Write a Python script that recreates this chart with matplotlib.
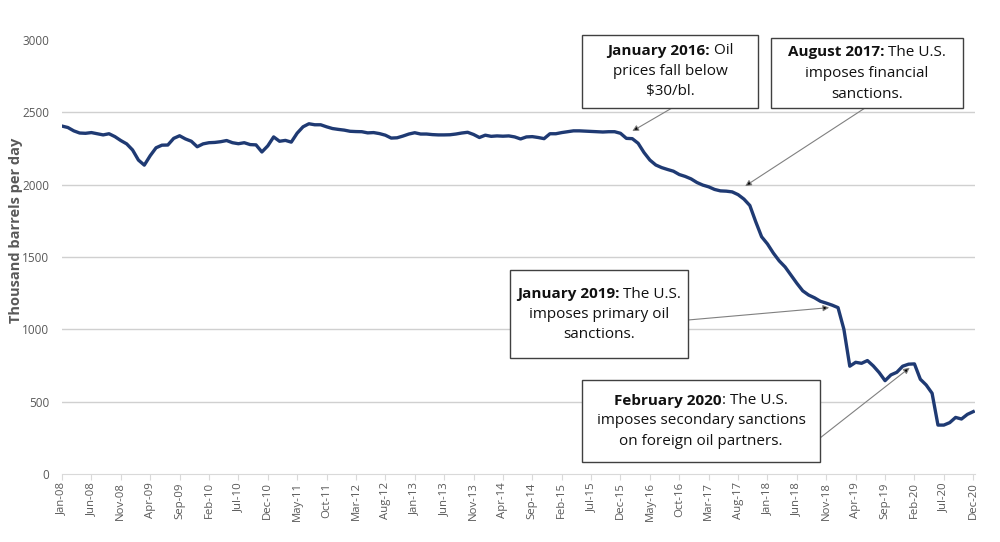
import matplotlib
matplotlib.use("Agg")
import matplotlib.pyplot as plt
from matplotlib.patches import Rectangle

# monthly crude output, Jan-2008 .. Dec-2020 (thousand b/d)
prod = [
    2405, 2395, 2372, 2357, 2355, 2360, 2352, 2344, 2352, 2332,
    2305, 2282, 2240, 2170, 2135, 2200, 2255, 2273, 2274, 2320,
    2338, 2316, 2300, 2262, 2282, 2290, 2292, 2297, 2305, 2290,
    2283, 2290, 2277, 2275, 2226, 2268, 2330, 2300, 2306, 2294,
    2356, 2400, 2421, 2414, 2414, 2400, 2388, 2382, 2377, 2369,
    2367, 2366, 2358, 2360, 2353, 2342, 2322, 2324, 2336, 2350,
    2359, 2350, 2350, 2346, 2344, 2344, 2345, 2350, 2357, 2362,
    2347, 2326, 2342, 2334, 2337, 2335, 2337, 2330, 2316, 2330,
    2332, 2326, 2318, 2352, 2352, 2360, 2366, 2372, 2372, 2370,
    2368, 2366, 2364, 2366, 2366, 2355, 2320, 2318, 2286, 2222,
    2170, 2136, 2118, 2105, 2093, 2070, 2057, 2040, 2015, 1997,
    1985, 1967, 1957, 1955, 1950, 1931, 1900, 1856, 1744, 1640,
    1590, 1527, 1473, 1431, 1375, 1318, 1266, 1237, 1218, 1194,
    1181, 1167, 1150, 1000, 745, 772, 765, 784, 747, 701,
    645, 685, 703, 745, 759, 761, 655, 615, 558, 338,
    338, 355, 391, 380, 412, 431,
]

tick_labels = [
    "Jan-08", "Jun-08", "Nov-08", "Apr-09", "Sep-09", "Feb-10", "Jul-10",
    "Dec-10", "May-11", "Oct-11", "Mar-12", "Aug-12", "Jan-13", "Jun-13",
    "Nov-13", "Apr-14", "Sep-14", "Feb-15", "Jul-15", "Dec-15", "May-16",
    "Oct-16", "Mar-17", "Aug-17", "Jan-18", "Jun-18", "Nov-18", "Apr-19",
    "Sep-19", "Feb-20", "Jul-20", "Dec-20",
]
yticks = [0, 500, 1000, 1500, 2000, 2500, 3000]

# (bold lead, rest of first line, other lines)
notes = [
    ("January 2016:", " Oil", ["prices fall below", "$30/bl."]),
    ("August 2017:", " The U.S.", ["imposes financial", "sanctions."]),
    ("January 2019:", " The U.S.", ["imposes primary oil", "sanctions."]),
    ("February 2020", ": The U.S.", ["imposes secondary sanctions",
                                    "on foreign oil partners."]),
]

plt.rcParams['font.family'] = ['Open Sans', 'DejaVu Sans']
grey = '#595959'

fig = plt.figure(figsize=(10, 5.42), dpi=100)
ax = fig.add_axes([0.062, 0.1255, 0.913, 0.8007])

ax.plot(range(len(prod)), prod, color='#1f3a73', lw=2.4,
        solid_joinstyle='round', zorder=3)
ax.set_xlim(0, 155.3)
ax.set_ylim(0, 3000)

for v in yticks[1:-1]:
    ax.axhline(v, color='#d0d0d0', lw=1, zorder=0)

for s in ['top', 'right', 'left']:
    ax.spines[s].set_visible(False)
ax.spines['bottom'].set_color('#d9d9d9')

ax.set_yticks(yticks)
ax.tick_params(axis='y', length=0, labelsize=8.5, labelcolor=grey, pad=9)
ax.set_xticks(range(0, len(prod), 5))
ax.set_xticklabels(tick_labels, rotation=90)
ax.tick_params(axis='x', length=4, color='#d9d9d9', labelsize=8.2,
               labelcolor=grey, pad=2)

fig.text(0.016, 0.575, "Thousand barrels per day", rotation=90,
         ha='center', va='center', fontsize=10.5, fontweight='bold', color=grey)

# annotation boxes in figure pixels: left, top, right, bottom, line step,
# arrow start, arrow tip (data)
boxes = [
    (582, 35, 758, 108, 20.5, (672, 108), (97, 2370)),
    (771, 38, 963, 108, 21, (865, 108), (116.2, 1990)),
    (510, 270, 688, 358, 20, (688, 320), (130.5, 1150)),
    (582, 380, 820, 462, 20.5, (820, 438), (144.2, 735)),
]

W, H = 1000.0, 542.0
fig.canvas.draw()
r = fig.canvas.get_renderer()
for (bold, rest, lines), (l, t, rr, b, step, start, tip) in zip(notes, boxes):
    fig.patches.append(Rectangle((l / W, 1 - b / H), (rr - l) / W, (b - t) / H,
                                 transform=fig.transFigure, fill=True,
                                 facecolor='white', edgecolor='#404040',
                                 lw=1, zorder=4))
    cx = (l + rr) / 2.0 / W
    n = len(lines) + 1
    y0 = (t + b) / 2.0 - step * (n - 1) / 2.0
    fs = 11
    tb = fig.text(0, 1 - y0 / H, bold, fontweight='bold', fontsize=fs,
                  color='#111111', ha='left', va='center', zorder=5)
    tr = fig.text(0, 1 - y0 / H, rest, fontsize=fs, color='#111111',
                  ha='left', va='center', zorder=5)
    wb = tb.get_window_extent(r).width / W
    wr = tr.get_window_extent(r).width / W
    tb.set_x(cx - (wb + wr) / 2)
    tr.set_x(cx - (wb + wr) / 2 + wb)
    for k, line in enumerate(lines):
        fig.text(cx, 1 - (y0 + step * (k + 1)) / H, line, fontsize=fs,
                 color='#111111', ha='center', va='center', zorder=5)
    ax.annotate('', xy=tip, xycoords='data',
                xytext=(start[0] / W, 1 - start[1] / H),
                textcoords='figure fraction',
                arrowprops=dict(arrowstyle='-|>', edgecolor='#808080',
                                facecolor='black', lw=0.8,
                                mutation_scale=9, shrinkA=0, shrinkB=0),
                annotation_clip=False, zorder=6)

fig.savefig("out.png", dpi=100)
